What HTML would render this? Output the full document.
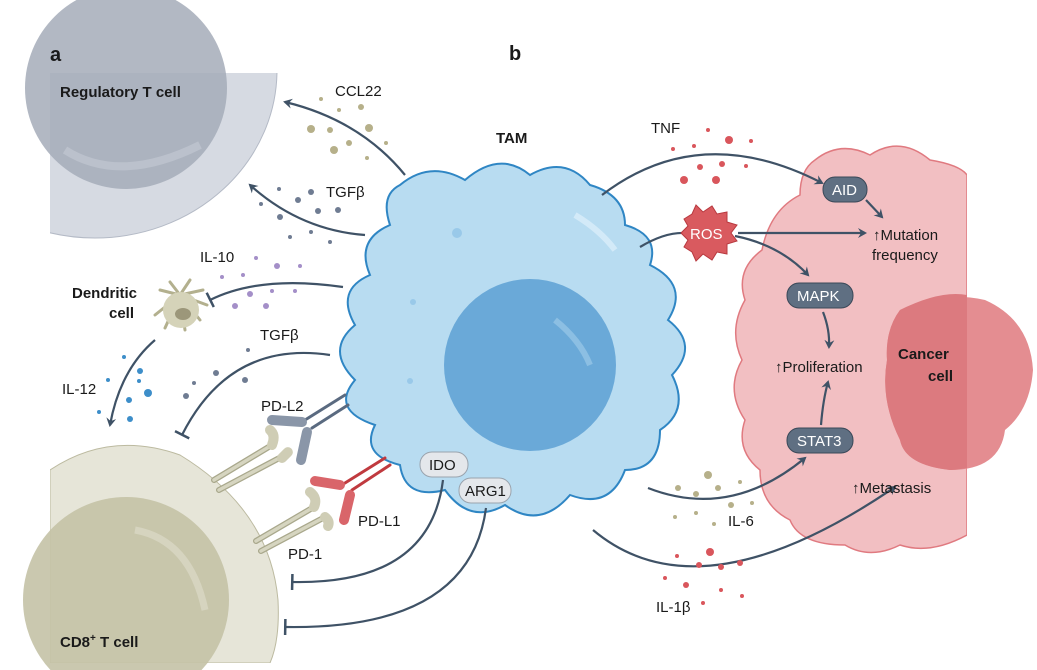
<!DOCTYPE html>
<html><head><meta charset="utf-8"><style>
html,body{margin:0;padding:0;background:#fff}
svg{display:block}
text{font-family:"Liberation Sans",sans-serif;font-size:15px;fill:#1a1a1a}
.b{font-weight:bold}
.w{fill:#fff;font-size:15px}
</style></head><body>
<svg width="1037" height="670" viewBox="0 0 1037 670">
<defs>
<marker id="ar" markerWidth="10" markerHeight="10" refX="7" refY="5" orient="auto" markerUnits="userSpaceOnUse"><path d="M0,0 L9,5 L0,10 L3,5 Z" fill="#3f5266"/></marker>
<marker id="tb" markerWidth="4" markerHeight="16" refX="2" refY="8" orient="auto" markerUnits="userSpaceOnUse"><rect x="0.5" y="0" width="2.5" height="16" fill="#3f5266"/></marker>
<clipPath id="tc"><rect x="50" y="73" width="400" height="200"/></clipPath>
<clipPath id="cc"><rect x="50" y="400" width="400" height="263"/></clipPath>
<clipPath id="kc"><rect x="600" y="100" width="367" height="500"/></clipPath>
</defs>

<!-- Regulatory T cell -->
<ellipse cx="95" cy="70" rx="182" ry="168" fill="#d6dae2" stroke="#b4bac6" clip-path="url(#tc)"/>
<circle cx="126" cy="88" r="101" fill="#a5abb9" opacity="0.85"/>
<path d="M65,150 Q120,185 200,145" stroke="#c2c7d2" stroke-width="8" fill="none" opacity="0.7"/>
<text x="50" y="61" class="b" style="font-size:20px">a</text>
<text x="60" y="97" class="b">Regulatory T cell</text>

<!-- CD8 T cell -->
<path d="M50,470 Q110,430 180,455 Q270,510 278,600 Q280,640 270,663 L50,663 Z" fill="#e6e5d8" stroke="#bcbaa0" clip-path="url(#cc)"/>
<circle cx="126" cy="600" r="103" fill="#c4c2a6" opacity="0.9"/>
<path d="M135,530 Q190,540 205,610" stroke="#d6d4bf" stroke-width="7" fill="none"/>
<text x="60" y="647" class="b">CD8<tspan dy="-6" style="font-size:10px">+</tspan><tspan dy="6"> T cell</tspan></text>

<!-- Cancer cell -->
<g clip-path="url(#kc)">
<path d="M815,160 Q840,140 870,155 Q900,135 930,160 Q960,165 967,175 L967,535 Q930,555 900,545 Q870,560 845,545 Q800,545 790,520 Q760,505 760,470 Q735,450 745,420 Q725,390 742,360 Q728,330 745,300 Q735,270 762,250 Q770,210 800,195 Q800,170 815,160 Z" fill="#f2bfc2" stroke="#e07a80" stroke-width="1.5"/>
</g>
<path d="M900,310 Q940,290 985,300 Q1030,320 1033,370 Q1030,410 1005,430 Q1000,470 950,470 Q905,465 900,440 Q880,400 887,360 Q885,330 900,310 Z" fill="#e48d91"/>
<path d="M900,310 Q940,290 967,295 L967,468 Q955,470 950,470 Q905,465 900,440 Q880,400 887,360 Q885,330 900,310 Z" fill="#dc7a7f"/>
<text x="898" y="359" class="b">Cancer</text>
<text x="928" y="381" class="b">cell</text>

<!-- TAM -->
<path d="M400,185 Q430,160 465,180 Q500,150 530,175 Q565,155 590,185 Q625,195 625,225 Q660,235 650,265 Q690,285 668,320 Q700,345 672,375 Q690,410 660,430 Q660,470 625,470 Q610,510 570,495 Q540,530 505,505 Q470,525 445,490 Q405,500 400,465 Q360,455 375,425 Q330,410 355,380 Q325,350 355,325 Q335,290 370,275 Q355,240 390,225 Q380,195 400,185 Z" fill="#b8dcf1" stroke="#2f86c4" stroke-width="2"/>
<circle cx="530" cy="365" r="86" fill="#6aa9d8"/>
<path d="M555,320 Q580,340 590,365" stroke="#8cbfe3" stroke-width="6" fill="none"/>
<path d="M575,215 Q600,230 615,250" stroke="#d3eaf8" stroke-width="6" fill="none"/>
<circle cx="457" cy="233" r="5" fill="#99c9e9"/><circle cx="413" cy="302" r="3" fill="#99c9e9"/><circle cx="410" cy="381" r="3" fill="#99c9e9"/>
<text x="496" y="143" class="b">TAM</text>

<!-- IDO / ARG1 -->
<rect x="420" y="452" width="48" height="25" rx="12" fill="#e4e7eb" stroke="#9aa3ad"/>
<text x="429" y="470">IDO</text>
<rect x="459" y="478" width="52" height="25" rx="12" fill="#e4e7eb" stroke="#9aa3ad"/>
<text x="465" y="496">ARG1</text>

<!-- arrows left -->
<g fill="none" stroke="#3f5266" stroke-width="2.2">
<path d="M405,175 Q360,120 285,102" marker-end="url(#ar)"/>
<path d="M365,235 Q300,230 250,185" marker-end="url(#ar)"/>
<path d="M343,287 Q260,275 210,300" marker-end="url(#tb)"/>
<path d="M330,355 Q230,340 182,435" marker-end="url(#tb)"/>
<path d="M155,340 Q120,370 110,425" marker-end="url(#ar)"/>
<path d="M443,480 Q430,585 292,582" marker-end="url(#tb)"/>
<path d="M486,508 Q470,630 285,627" marker-end="url(#tb)"/>
<!-- right -->
<path d="M602,195 Q700,120 822,183" marker-end="url(#ar)"/>
<path d="M640,247 Q665,232 685,233"/>
<path d="M738,233 L865,233" marker-end="url(#ar)"/>
<path d="M735,236 Q780,245 808,275" marker-end="url(#ar)"/>
<path d="M866,200 L882,217" marker-end="url(#ar)"/>
<path d="M823,312 Q830,330 829,347" marker-end="url(#ar)"/>
<path d="M821,425 Q823,400 828,382" marker-end="url(#ar)"/>
<path d="M648,488 Q730,520 805,458" marker-end="url(#ar)"/>
<path d="M593,530 Q700,620 895,487" marker-end="url(#ar)"/>
</g>

<!-- receptors (CD8 side) -->
<g stroke-linecap="round" fill="none">
<path d="M214,480 L272,445 M219,490 L285,455" stroke="#a9a88c" stroke-width="6"/>
<path d="M214,480 L272,445 M219,490 L285,455" stroke="#d6d5c0" stroke-width="3.5"/>
<path d="M272,445 Q276,435 270,430" stroke="#cfcdb5" stroke-width="10"/>
<path d="M285,455 Q292,448 282,458" stroke="#cfcdb5" stroke-width="10"/>
<path d="M256,541 L314,507 M261,551 L325,517" stroke="#a9a88c" stroke-width="6"/>
<path d="M256,541 L314,507 M261,551 L325,517" stroke="#d6d5c0" stroke-width="3.5"/>
<path d="M314,507 Q318,498 310,492" stroke="#cfcdb5" stroke-width="10"/>
<path d="M325,517 Q330,521 328,526" stroke="#cfcdb5" stroke-width="10"/>
<!-- PD-L2 -->
<path d="M305,420 L345,395 M312,428 L348,405" stroke="#5a6a80" stroke-width="3"/>
<path d="M272,420 L302,422" stroke="#8a96a8" stroke-width="10"/>
<path d="M307,432 L301,460" stroke="#8a96a8" stroke-width="10"/>
<!-- PD-L1 -->
<path d="M345,483 L385,458 M352,490 L390,465" stroke="#c03a3f" stroke-width="3"/>
<path d="M315,481 L340,485" stroke="#d9656a" stroke-width="10"/>
<path d="M350,495 L344,520" stroke="#d9656a" stroke-width="10"/>
</g>
<text x="261" y="411">PD-L2</text>
<text x="358" y="526">PD-L1</text>
<text x="288" y="559">PD-1</text>

<!-- dendritic cell -->
<g stroke="#b3b08e" stroke-width="3" stroke-linecap="round">
<path d="M180,295 L160,290 M180,295 L170,282 M180,295 L190,280 M180,295 L203,290 M180,295 L207,305 M180,295 L200,320 M180,295 L185,330 M180,295 L165,328 M180,295 L155,315"/>
</g>
<circle cx="181" cy="310" r="18" fill="#d5d3b9"/>
<ellipse cx="183" cy="314" rx="8" ry="6" fill="#9c977a"/>
<text x="72" y="298" class="b">Dendritic</text>
<text x="109" y="318" class="b">cell</text>

<!-- labels -->
<text x="335" y="96">CCL22</text>
<text x="326" y="197">TGFβ</text>
<text x="200" y="262">IL-10</text>
<text x="260" y="340">TGFβ</text>
<text x="62" y="394">IL-12</text>
<text x="651" y="133">TNF</text>
<text x="728" y="526">IL-6</text>
<text x="656" y="612">IL-1β</text>
<text x="873" y="240">↑Mutation</text>
<text x="872" y="260">frequency</text>
<text x="775" y="372">↑Proliferation</text>
<text x="852" y="493">↑Metastasis</text>
<text x="509" y="60" class="b" style="font-size:20px">b</text>

<!-- ROS star -->
<polygon points="684,219 692,214 696,205 703,212 712,206 717,214 727,212 727,222 737,225 731,233 737,241 727,244 727,254 717,252 712,260 703,254 696,261 692,252 684,247 688,240 681,233 688,226" fill="#d95a5f" stroke="#b8393f"/>
<text x="690" y="239" class="w">ROS</text>

<!-- pathway pills -->
<rect x="823" y="177" width="44" height="25" rx="12" fill="#5f6f82" stroke="#3a4858"/>
<text x="832" y="195" class="w">AID</text>
<rect x="787" y="283" width="66" height="25" rx="12" fill="#5f6f82" stroke="#3a4858"/>
<text x="797" y="301" class="w">MAPK</text>
<rect x="787" y="428" width="66" height="25" rx="12" fill="#5f6f82" stroke="#3a4858"/>
<text x="797" y="446" class="w">STAT3</text>

<!-- dots -->
<g fill="#b6b08a">
<circle cx="321" cy="99" r="2"/><circle cx="339" cy="110" r="2"/><circle cx="361" cy="107" r="3"/><circle cx="311" cy="129" r="4"/><circle cx="330" cy="130" r="3"/><circle cx="369" cy="128" r="4"/><circle cx="349" cy="143" r="3"/><circle cx="334" cy="150" r="4"/><circle cx="386" cy="143" r="2"/><circle cx="367" cy="158" r="2"/>
<circle cx="708" cy="475" r="4"/><circle cx="678" cy="488" r="3"/><circle cx="696" cy="494" r="3"/><circle cx="718" cy="488" r="3"/><circle cx="740" cy="482" r="2"/><circle cx="752" cy="503" r="2"/><circle cx="731" cy="505" r="3"/><circle cx="675" cy="517" r="2"/><circle cx="696" cy="513" r="2"/><circle cx="714" cy="524" r="2"/>
</g>
<g fill="#6f7c92">
<circle cx="279" cy="189" r="2"/><circle cx="311" cy="192" r="3"/><circle cx="298" cy="200" r="3"/><circle cx="261" cy="204" r="2"/><circle cx="280" cy="217" r="3"/><circle cx="318" cy="211" r="3"/><circle cx="338" cy="210" r="3"/><circle cx="290" cy="237" r="2"/><circle cx="311" cy="232" r="2"/><circle cx="330" cy="242" r="2"/>
<circle cx="248" cy="350" r="2"/><circle cx="194" cy="383" r="2"/><circle cx="216" cy="373" r="3"/><circle cx="245" cy="380" r="3"/><circle cx="186" cy="396" r="3"/>
</g>
<g fill="#a48fc8">
<circle cx="256" cy="258" r="2"/><circle cx="277" cy="266" r="3"/><circle cx="300" cy="266" r="2"/><circle cx="222" cy="277" r="2"/><circle cx="243" cy="275" r="2"/><circle cx="250" cy="294" r="3"/><circle cx="272" cy="291" r="2"/><circle cx="295" cy="291" r="2"/><circle cx="235" cy="306" r="3"/><circle cx="266" cy="306" r="3"/>
</g>
<g fill="#3d8ec9">
<circle cx="124" cy="357" r="2"/><circle cx="140" cy="371" r="3"/><circle cx="108" cy="380" r="2"/><circle cx="148" cy="393" r="4"/><circle cx="129" cy="400" r="3"/><circle cx="99" cy="412" r="2"/><circle cx="130" cy="419" r="3"/><circle cx="139" cy="381" r="2"/>
</g>
<g fill="#d9565c">
<circle cx="708" cy="130" r="2"/><circle cx="729" cy="140" r="4"/><circle cx="751" cy="141" r="2"/><circle cx="673" cy="149" r="2"/><circle cx="694" cy="146" r="2"/><circle cx="700" cy="167" r="3"/><circle cx="722" cy="164" r="3"/><circle cx="746" cy="166" r="2"/><circle cx="684" cy="180" r="4"/><circle cx="716" cy="180" r="4"/>
<circle cx="677" cy="556" r="2"/><circle cx="710" cy="552" r="4"/><circle cx="699" cy="565" r="3"/><circle cx="721" cy="567" r="3"/><circle cx="740" cy="563" r="3"/><circle cx="665" cy="578" r="2"/><circle cx="686" cy="585" r="3"/><circle cx="721" cy="590" r="2"/><circle cx="742" cy="596" r="2"/><circle cx="703" cy="603" r="2"/>
</g>
</svg>
</body></html>
